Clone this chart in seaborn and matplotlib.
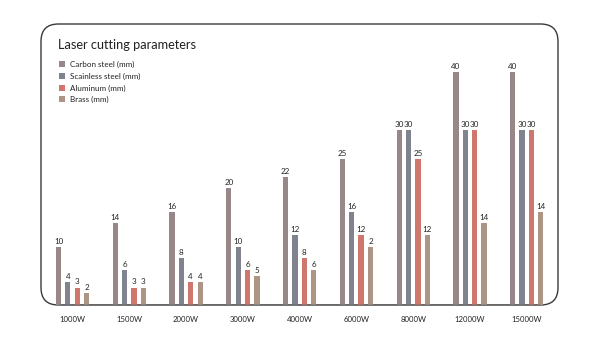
import pandas as pd
import matplotlib.pyplot as plt
import seaborn as sns
from matplotlib.patches import FancyBboxPatch

powers = ['1000W', '1500W', '2000W', '3000W', '4000W', '6000W', '8000W', '12000W', '15000W']
materials = ['Carbon steel (mm)', 'Scainless steel (mm)', 'Aluminum (mm)', 'Brass (mm)']
carbon = [10, 14, 16, 20, 22, 25, 30, 40, 40]
stainless = [4, 6, 8, 10, 12, 16, 30, 30, 30]
aluminum = [3, 3, 4, 6, 8, 12, 25, 30, 30]
brass = [2, 3, 4, 5, 6, 10, 12, 14, 16]
# printed labels (two brass bars in the source are drawn taller than their label)
brass_labels = ['2', '3', '4', '5', '6', '2', '12', '14', '14']
colors = ['#9a8486', '#7d8290', '#df6a5c', '#b39380']

sns.set_style('white')
plt.rcParams['font.family'] = ['Lato', 'DejaVu Sans']

df = pd.DataFrame({
    'power': powers * 4,
    'material': [m for m in materials for _ in powers],
    'value': carbon + stainless + aluminum + brass,
})

fig = plt.figure(figsize=(6, 3.5), dpi=100)
ax = fig.add_axes([41 / 600, 45 / 350, 517 / 600, 281 / 350])

# rounded card frame
frame = FancyBboxPatch((41 / 600, 45 / 350), 517 / 600, 281 / 350,
                       boxstyle='round,pad=0,rounding_size=0.029',
                       mutation_aspect=600 / 350, transform=fig.transFigure,
                       facecolor='none', edgecolor='#3a3a3a', linewidth=1.0,
                       zorder=-1)
fig.patches.append(frame)
ax.patch.set_alpha(0)

sns.barplot(data=df, x='power', y='value', hue='material', palette=colors,
            width=0.66, gap=0.44, ax=ax, legend=True, zorder=3,
            errorbar=None, linewidth=0)

# baseline drawn over the bars
ax.axhline(0, xmin=0.034, xmax=0.966, color='#3a3a3a', lw=1.0, zorder=5)

label_sets = [[str(v) for v in carbon], [str(v) for v in stainless],
              [str(v) for v in aluminum], brass_labels]
for cont, labs in zip(ax.containers, label_sets):
    ax.bar_label(cont, labels=labs, padding=1.5, fontsize=5.8, color='#222222')

ax.set_xlim(-0.555, 8.55)
ax.set_ylim(0, 48.2)
ax.set_xlabel('')
ax.set_ylabel('')
ax.set_yticks([])
ax.tick_params(axis='x', length=0, labelsize=5.6, colors='#222222', pad=8)
for s in ax.spines.values():
    s.set_visible(False)

ax.legend(loc='upper left', bbox_to_anchor=(15 / 517, 1 - 34 / 281),
          frameon=False, fontsize=5.8, handlelength=0.75, handleheight=0.75,
          handletextpad=0.55, labelspacing=0.55, borderaxespad=0,
          labelcolor='#222222')

fig.text(58 / 600, 1 - 45 / 350, 'Laser cutting parameters', fontsize=9.2,
         color='#222222', va='center', ha='left')

plt.savefig('out.png', dpi=100)
plt.close()
